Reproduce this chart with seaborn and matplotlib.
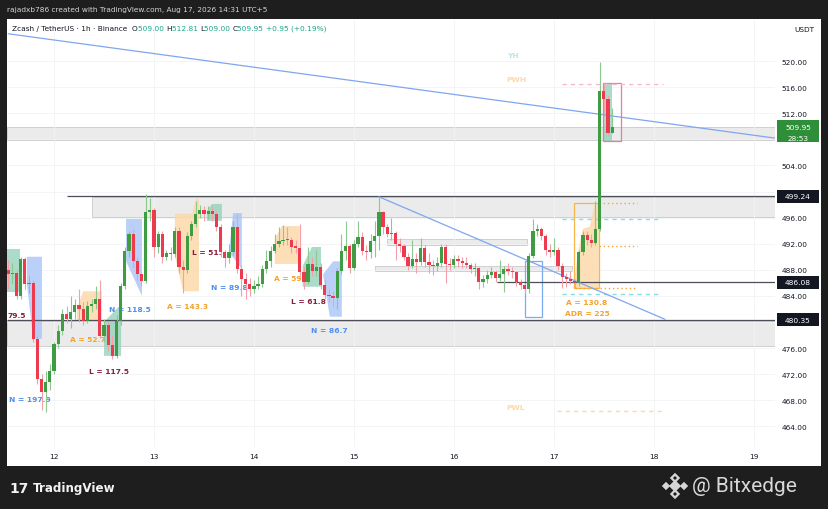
import matplotlib
matplotlib.use("Agg")
import numpy as np
import pandas as pd
import seaborn as sns
import matplotlib.pyplot as plt
from matplotlib.patches import Rectangle, Polygon, RegularPolygon
from matplotlib.transforms import blended_transform_factory, IdentityTransform

# ---- hourly candles, Aug 11 13:00 -> Aug 17 14:00 (hour index 0..145) ----
closes = [487.3, 487.5, 484.0, 489.6, 485.8, 486.0, 477.4, 471.2, 469.2, 470.8,
          472.5, 476.6, 478.6, 481.2, 480.5, 481.5, 482.6, 482.0, 480.1, 482.4,
          482.8, 483.5, 477.8, 479.6, 476.5, 474.8, 480.2, 485.5, 490.9, 493.5,
          489.3, 487.3, 486.3, 496.9, 497.2, 491.5, 493.5, 490.0, 490.6, 490.4,
          494.0, 488.4, 488.0, 493.2, 495.0, 496.6, 497.2, 496.6, 497.0, 496.5,
          494.6, 490.7, 489.8, 490.7, 494.6, 488.1, 486.6, 485.8, 485.0, 485.5,
          485.8, 488.1, 489.3, 490.9, 492.0, 492.4, 492.6, 492.5, 491.5, 491.4,
          487.6, 486.1, 488.9, 487.8, 488.4, 485.6, 484.2, 484.0, 483.6, 487.8,
          490.9, 491.6, 488.3, 492.0, 493.0, 490.9, 490.7, 492.4, 493.2, 496.9,
          494.6, 493.5, 493.7, 492.0, 491.6, 490.0, 488.6, 489.7, 489.2, 491.3,
          489.2, 488.8, 488.6, 489.0, 491.5, 488.9, 488.7, 489.6, 489.3, 489.0,
          488.7, 488.1, 488.2, 486.1, 486.6, 487.2, 487.6, 486.7, 487.3, 488.1,
          487.8, 487.6, 486.2, 485.7, 485.0, 490.1, 494.0, 494.2, 493.2, 491.0,
          490.8, 491.1, 488.6, 486.9, 486.6, 486.3, 485.9, 490.7, 493.3, 492.6,
          492.1, 494.2, 515.4, 514.2, 509.0, 509.95]
highs = [489.5, 489.0, 488.0, 490.0, 490.0, 487.0, 486.5, 478.0, 472.0, 472.5,
         473.5, 477.0, 479.5, 482.0, 482.5, 484.0, 483.5, 485.0, 483.0, 483.2,
         483.5, 485.5, 486.5, 480.5, 480.0, 478.0, 481.0, 486.0, 491.5, 494.0,
         494.2, 490.0, 487.5, 499.6, 499.0, 497.5, 494.0, 494.0, 491.0, 491.5,
         494.5, 494.5, 489.5, 493.8, 495.5, 498.5, 498.0, 497.8, 497.8, 497.8,
         497.0, 495.0, 491.0, 492.0, 495.5, 496.5, 488.8, 487.5, 486.8, 486.5,
         487.0, 488.8, 491.0, 491.6, 493.5, 494.5, 494.8, 494.5, 493.0, 492.5,
         495.0, 488.5, 491.5, 490.0, 491.0, 489.0, 486.5, 485.0, 484.8, 488.3,
         493.5, 495.5, 492.0, 492.5, 495.5, 493.8, 491.8, 493.5, 495.5, 499.2,
         497.0, 495.0, 496.0, 494.0, 492.8, 492.0, 490.5, 492.5, 490.5, 492.8,
         491.8, 490.5, 489.5, 490.0, 492.0, 492.0, 489.8, 490.2, 490.2, 490.0,
         490.0, 489.0, 489.0, 488.5, 487.2, 488.0, 488.5, 488.0, 489.5, 488.6,
         489.0, 488.5, 487.8, 486.6, 486.0, 490.5, 495.8, 495.0, 494.6, 493.5,
         492.0, 492.8, 491.5, 489.0, 487.5, 487.8, 486.6, 491.0, 494.0, 494.0,
         493.5, 498.5, 519.8, 516.3, 514.8, 512.81]
lows = [485.0, 486.0, 483.5, 483.5, 485.0, 484.5, 477.0, 470.5, 466.5, 466.2,
        469.5, 472.0, 476.0, 478.0, 479.8, 479.0, 480.5, 480.0, 479.5, 479.8,
        481.5, 482.0, 477.5, 477.0, 475.5, 474.3, 474.5, 479.5, 485.0, 490.0,
        488.5, 486.5, 485.5, 486.0, 495.5, 490.0, 490.5, 489.0, 489.5, 489.5,
        490.0, 487.5, 484.5, 487.5, 492.5, 494.5, 496.0, 495.5, 495.8, 495.5,
        494.0, 490.0, 488.5, 489.0, 490.2, 487.5, 484.0, 483.5, 484.0, 484.5,
        485.0, 485.3, 487.5, 488.5, 490.5, 491.5, 491.8, 491.8, 490.5, 490.5,
        487.0, 485.0, 485.8, 487.0, 487.0, 485.0, 483.5, 483.0, 482.5, 482.0,
        487.3, 489.5, 487.5, 488.0, 491.5, 490.2, 489.5, 489.8, 490.0, 491.0,
        493.5, 493.0, 492.5, 489.5, 490.8, 489.5, 488.0, 488.2, 487.5, 488.8,
        488.5, 487.5, 487.2, 487.8, 488.5, 486.0, 488.0, 488.2, 488.5, 488.3,
        488.2, 487.5, 487.0, 485.0, 485.3, 486.0, 486.8, 486.2, 486.3, 484.6,
        487.2, 486.8, 485.5, 485.0, 484.5, 484.5, 489.8, 493.2, 492.5, 490.3,
        490.0, 490.2, 488.0, 485.2, 485.3, 485.8, 485.2, 485.5, 490.2, 491.8,
        491.5, 491.8, 494.0, 512.0, 508.6, 509.0]
first_open = 488.0
opens = [first_open] + closes[:-1]

day_hours = [11, 35, 59, 83, 107, 131, 155, 179]
day_labels = ["12", "13", "14", "15", "16", "17", "18", "19"]
price_ticks = list(range(464, 521, 4))
hidden_ticks = [480, 508]   # covered by the price tags

# trend lines (hour, price)
trend_long_h = [0, 184]
trend_long_p = [524.2, 508.2]
trend_short_h = [89, 157.7]
trend_short_p = [499.2, 480.4]

# horizontal levels: (start hour, price, label)
levels = [(14.1, 499.24, "499.24"), (117.3, 486.08, "486.08"), (-0.3, 480.35, "480.35")]
last_price = 509.95
countdown = "28:53"

# grey zones: (start hour, end hour, low, high)
grey_zones = [(-0.3, 184.1, 507.9, 509.9), (20.1, 184.1, 496.1, 499.2),
              (-0.3, 184.1, 476.3, 480.2), (90.9, 124.5, 491.8, 492.7),
              (88.0, 135.3, 487.8, 488.6)]

# session boxes (hour, price) outlines
teal_boxes = [
    [(-0.3, 484.6), (2.8, 484.6), (2.8, 491.2), (-0.3, 491.2)],
    [(23.0, 480.0), (27.1, 482.7), (27.1, 474.8), (23.0, 474.8)],
    [(47.7, 497.0), (48.9, 498.1), (51.3, 498.1), (51.3, 495.5), (47.7, 495.5)],
    [(70.7, 488.6), (72.9, 491.5), (75.1, 491.5), (75.1, 485.4), (70.7, 485.4)],
    [(142.8, 516.6), (145.0, 516.6), (145.0, 507.8), (142.8, 507.8)],
]
blue_boxes = [
    [(4.5, 490.0), (8.1, 490.0), (8.1, 477.4), (6.0, 477.4), (4.5, 485.8)],
    [(28.3, 495.8), (32.1, 495.8), (32.1, 484.0), (28.3, 489.3)],
    [(53.0, 490.7), (54.0, 496.7), (56.1, 496.7), (56.1, 488.1), (54.7, 489.3)],
    [(75.6, 487.3), (78.0, 489.3), (80.1, 489.3), (80.1, 480.8), (77.2, 480.8)],
]
orange_boxes = [
    [(16.5, 480.0), (16.5, 482.0), (18.0, 484.7), (22.5, 484.7), (22.5, 480.0)],
    [(40.0, 490.1), (40.0, 496.6), (44.1, 496.6), (45.1, 498.9), (45.8, 498.9),
     (45.8, 484.7), (42.0, 484.7)],
    [(64.0, 488.9), (64.0, 492.7), (65.7, 494.7), (70.0, 494.7), (70.0, 488.9)],
    [(135.8, 485.2), (135.8, 485.8), (136.8, 490.7), (138.0, 494.3), (139.6, 494.6),
     (140.8, 498.1), (141.8, 498.2), (141.8, 485.2)],
]
# outlined rectangles: (h0, h1, low, high, colour)
outlines = [(124.0, 128.1, 480.8, 489.3, "#7aaaf0"),
            (135.8, 141.8, 485.2, 498.2, "#f7b54a"),
            (142.8, 147.1, 507.7, 516.6, "#e57f9b")]

# dashed levels: (h0, h1, price, colour, style)
dashes = [(132.9, 157.1, 516.5, "#f6b8c8", (0, (3, 3))),
          (141.8, 150.9, 498.2, "#f7a531", (0, (1, 2))),
          (132.9, 156.9, 495.8, "#86dde6", (0, (3, 3))),
          (141.8, 150.9, 491.6, "#f7a531", (0, (1, 2))),
          (136.0, 150.9, 485.2, "#f7a531", (0, (1, 2))),
          (132.9, 156.9, 484.3, "#86dde6", (0, (3, 3))),
          (131.7, 156.9, 466.3, "#fcd9a8", (0, (3, 3)))]

blue_c, orange_c, maroon_c = "#4f8ff0", "#f5a22c", "#8a1d3c"
labels = [(5.2, 468.2, "N = 197.9", blue_c), (29.2, 482.0, "N = 118.5", blue_c),
          (19.2, 477.4, "A = 52.7", orange_c), (24.2, 472.5, "L = 117.5", maroon_c),
          (43.1, 482.4, "A = 143.3", orange_c), (47.6, 490.7, "L = 51.", maroon_c),
          (53.2, 485.4, "N = 89.8", blue_c), (67.1, 486.7, "A = 59", orange_c),
          (72.0, 483.2, "L = 61.8", maroon_c), (77.0, 478.8, "N = 86.7", blue_c),
          (138.9, 483.1, "A = 130.8", orange_c), (139.1, 481.4, "ADR = 225", orange_c),
          (121.3, 520.9, "YH", "#b5e8ee"), (121.9, 517.3, "PWH", "#fcd9a8"),
          (121.9, 467.0, "PWL", "#fcd9a8")]

df = pd.DataFrame({"open": opens, "high": highs, "low": lows, "close": closes})
df["hour"] = np.arange(len(df))
df["up"] = df["close"] >= df["open"]

W, H = 829, 510
sns.set_theme(style="white")
plt.rcParams["font.family"] = ["DejaVu Sans"]

fig = plt.figure(figsize=(W / 100, H / 100), dpi=100, facecolor="#1e1e1e")
fig.patches.append(Rectangle((7 / W, 1 - 467 / H), (821 - 7) / W, (467 - 20) / H,
                             transform=fig.transFigure, fc="white", ec="none", zorder=-5))
ax = fig.add_axes([7 / W, 1 - 448 / H, (775 - 7) / W, (448 - 21) / H])
ax.set_facecolor("white")
ax.set_xlim(-0.29, 184.1)
ax.set_ylim(460.82, 526.31)
for s in ax.spines.values():
    s.set_visible(False)

ax.set_xticks(day_hours)
ax.set_xticklabels(day_labels)
ax.set_yticks(price_ticks)
ax.set_yticklabels(["" if p in hidden_ticks else f"{p:.2f}" for p in price_ticks])
ax.yaxis.tick_right()
ax.tick_params(axis="y", length=0, pad=4.5, labelsize=5.3, labelcolor="#131722")
ax.tick_params(axis="x", length=0, pad=4, labelsize=5.3, labelcolor="#131722")
ax.grid(True, color="#f1f2f4", lw=0.6, zorder=0)

# zones
for h0, h1, lo, hi in grey_zones:
    ax.add_patch(Rectangle((h0, lo), h1 - h0, hi - lo, fc="#ebebeb", ec="#cfcfcf",
                           lw=0.7, zorder=0.5))
for pts in teal_boxes:
    ax.add_patch(Polygon(pts, fc="#8fcfb8", ec="none", alpha=0.75, zorder=1))
for pts in blue_boxes:
    ax.add_patch(Polygon(pts, fc="#a9c5f7", ec="none", alpha=0.8, zorder=1))
for pts in orange_boxes:
    ax.add_patch(Polygon(pts, fc="#fcd9ab", ec="none", alpha=0.85, zorder=1))
for h0, h1, lo, hi, c in outlines:
    ax.add_patch(Rectangle((h0, lo), h1 - h0, hi - lo, fc="none", ec=c, lw=0.9, zorder=1.2))

for h0, h1, p, c, ls in dashes:
    ax.hlines(p, h0, h1, colors=c, linestyles=ls, lw=1.0, zorder=1.3)

for h0, p, _ in levels:
    ax.hlines(p, h0, 184.1, colors="#4c4f58", lw=0.9, zorder=1.4)

sns.lineplot(x=trend_long_h, y=trend_long_p, ax=ax, color="#7ea6ef", lw=0.9, zorder=1.5)
sns.lineplot(x=trend_short_h, y=trend_short_p, ax=ax, color="#7ea6ef", lw=0.9, zorder=1.5)

for h, p, t, c in labels:
    ax.text(h, p, t, color=c, fontsize=5.4, ha="center", va="center",
            fontweight="semibold", zorder=2)
ax.text(-0.2, 481.1, "79.5", color=maroon_c, fontsize=5.4, ha="left", va="center",
        fontweight="semibold", zorder=2)

# candles
green, red = "#3f9c43", "#ee3a4f"
cols = np.where(df["up"], green, red)
wick_cols = np.where(df["up"], "#8cc98f", "#f3a0aa")
ax.vlines(df["hour"], df["low"], df["high"], colors=wick_cols, lw=0.8, zorder=3)
body_lo = df[["open", "close"]].min(axis=1)
body_h = (df["close"] - df["open"]).abs().clip(lower=0.2)
ax.bar(df["hour"], body_h, bottom=body_lo, width=0.78, color=cols, lw=0, zorder=4)

# price-scale tags
tr = blended_transform_factory(ax.transAxes, ax.transData)
x0, x1 = (777 - 7) / 768, (819 - 7) / 768
for _, p, t in levels:
    ax.add_patch(Rectangle((x0, p - 1.0), x1 - x0, 2.0, transform=tr, fc="#131722",
                           ec="none", clip_on=False, zorder=5))
    ax.text((x0 + x1) / 2, p, t, transform=tr, color="white", fontsize=5.4,
            ha="center", va="center", clip_on=False, zorder=6)
ax.add_patch(Rectangle((x0, last_price - 2.4), x1 - x0, 3.4, transform=tr, fc="#2f8f38",
                       ec="none", clip_on=False, zorder=5))
ax.text((x0 + x1) / 2, last_price - 0.05, f"{last_price:.2f}", transform=tr,
        color="white", fontsize=5.4, ha="center", va="center", clip_on=False, zorder=6)
ax.text((x0 + x1) / 2, last_price - 1.75, countdown, transform=tr, color="white",
        fontsize=5.2, ha="center", va="center", clip_on=False, zorder=6)

# header texts
fig.text(7 / W, 1 - 10 / H, "rajadxb786 created with TradingView.com, Aug 17, 2026 14:31 UTC+5",
         color="#d5d5d5", fontsize=5.3, ha="left", va="center")
fig.text(794 / W, 1 - 30 / H, "USDT", color="#131722", fontsize=5.3, ha="left", va="center")

teal = "#1aa58a"
dark = "#131722"
pieces = [("Zcash / TetherUS · 1h · Binance  ", dark), ("O", dark), ("509.00 ", teal),
          ("H", dark), ("512.81 ", teal), ("L", dark), ("509.00 ", teal),
          ("C", dark), ("509.95 ", teal), ("+0.95 (+0.19%)", teal)]
renderer = fig.canvas.get_renderer()
x = 12
for s, c in pieces:
    t = fig.text(x / W, 1 - 29 / H, s, color=c, fontsize=5.3, ha="left", va="center")
    x += t.get_window_extent(renderer=renderer).width

# footer
fig.text(9 / W, 1 - 489 / H, "17", color="#f2f2f2", fontsize=10, fontweight="heavy",
         ha="left", va="center")
fig.text(33 / W, 1 - 489 / H, "TradingView", color="#f2f2f2", fontsize=8.6,
         fontweight="bold", ha="left", va="center")
idt = IdentityTransform()
cx, cy = 675, H - 487
for dx, dy, r, fill in [(0, 0, 4.5, True), (-9, 0, 2.6, True), (9, 0, 2.6, True),
                        (0, 8, 3.6, False), (0, -8, 3.6, False)]:
    fig.patches.append(RegularPolygon((cx + dx, cy + dy), 4, radius=r, orientation=0,
                                      transform=idt, fc="#d6d6d6" if fill else "none",
                                      ec="#d6d6d6", lw=1.6))
fig.text(692 / W, 1 - 487 / H, "@ Bitxedge", color="#d8d8d8", fontsize=15,
         family=["Roboto", "DejaVu Sans"], ha="left", va="center")

fig.savefig("out.png", dpi=100, facecolor=fig.get_facecolor())
